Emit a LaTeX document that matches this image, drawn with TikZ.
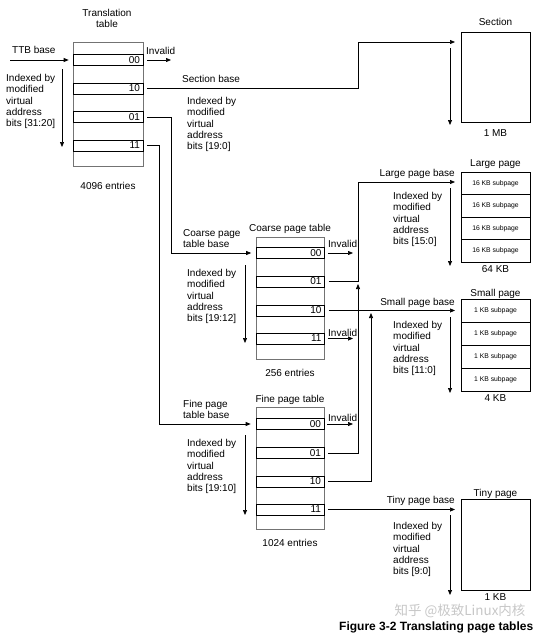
\documentclass[tikz,border=0pt]{standalone}
\usepackage{fontspec}
\setmainfont{Liberation Sans}
\newfontfamily\cjkfont{Noto Sans CJK SC}
\usetikzlibrary{arrows.meta}
\begin{document}
\begin{tikzpicture}[x=1pt,y=-1pt,
  font=\fontsize{10}{11.3}\selectfont,
  tbl/.style={draw=black!55, line width=0.7pt, minimum width=68pt, minimum height=122pt, inner sep=0pt},
  entry/.style={draw=black, line width=0.7pt, minimum width=68pt, minimum height=11pt, inner ysep=0pt, inner xsep=3pt, text width=62pt, align=right},
  pagebox/.style={draw=black, line width=0.8pt, minimum width=69pt, inner sep=0pt},
  subpg/.style={draw=black, line width=0.8pt, minimum width=69pt, inner sep=0pt, font=\fontsize{6.8}{7.5}\selectfont},
  lbl/.style={inner sep=0pt},
  blk/.style={inner sep=0pt, anchor=north west, align=left},
  conn/.style={line width=0.7pt},
  arr/.style={conn, -{Triangle[length=5pt,width=4pt]}},
]
\useasboundingbox (0,0) rectangle (555,640);

% watermark
\node[lbl, text=black!22] (wm) at (460,611) {\cjkfont\fontsize{13.5}{15}\selectfont 知乎 @极致Linux内核};

% ---------- Translation table ----------
\node[lbl, anchor=north, align=center] (ttl) at (107,9.2) {Translation\\table};
\node[tbl, minimum width=70pt, minimum height=124pt] (tt) at (108,104) {};
\node[entry, minimum width=70pt, text width=64pt] (t00) at (108,60) {00};
\node[entry, minimum width=70pt, text width=64pt] (t10) at (108,88.5) {10};
\node[entry, minimum width=70pt, text width=64pt] (t01) at (108,117) {01};
\node[entry, minimum width=70pt, text width=64pt] (t11) at (108,145.5) {11};
\node[lbl, anchor=base] (tent) at (108,189.5) {4096 entries};
\node[lbl, anchor=base west] (ttbl) at (12,53.5) {TTB base};
\node[blk] (tidx) at (6,74.2) {Indexed by\\modified\\virtual\\address\\bits [31:20]};
\node[lbl, anchor=base west] (tinv) at (146,54.5) {Invalid};
\node[lbl, anchor=base west] (secbase) at (182,82.5) {Section base};
\node[blk] (secidx) at (187,97.2) {Indexed by\\modified\\virtual\\address\\bits [19:0]};

% ---------- Coarse page table ----------
\node[lbl, anchor=base] (ctl) at (290,231.5) {Coarse page table};
\node[tbl] (ct) at (290.5,298) {};
\node[entry] (c00) at (290.5,253) {00};
\node[entry] (c01) at (290.5,281.5) {01};
\node[entry] (c10) at (290.5,310.5) {10};
\node[entry] (c11) at (290.5,338.5) {11};
\node[lbl, anchor=base] (cent) at (290,376.5) {256 entries};
\node[blk] (cbase) at (183,229.2) {Coarse page\\table base};
\node[blk] (cidx) at (187,269.2) {Indexed by\\modified\\virtual\\address\\bits [19:12]};
\node[lbl, anchor=base west] (cinv0l) at (328,247.5) {Invalid};
\node[lbl, anchor=base west] (cinv1l) at (328,336.5) {Invalid};

% ---------- Fine page table ----------
\node[lbl, anchor=base] (ftl) at (290,402.5) {Fine page table};
\node[tbl] (ft) at (290,468) {};
\node[entry] (f00) at (290,424) {00};
\node[entry] (f01) at (290,453) {01};
\node[entry] (f10) at (290,481.5) {10};
\node[entry] (f11) at (290,509.5) {11};
\node[lbl, anchor=base] (fent) at (290,546.5) {1024 entries};
\node[blk] (fbase) at (183,400.2) {Fine page\\table base};
\node[blk] (fidx) at (187,439.2) {Indexed by\\modified\\virtual\\address\\bits [19:10]};
\node[lbl, anchor=base west] (finvl) at (328,421.5) {Invalid};

% ---------- Pages ----------
\node[lbl, anchor=base] (secl) at (495.5,25.5) {Section};
\node[pagebox, minimum height=90pt] (sec) at (495.5,77) {};
\node[lbl, anchor=base] (secsz) at (495.5,136.5) {1 MB};

\node[lbl, anchor=base] (lgl) at (495.5,166.5) {Large page};
\node[subpg, minimum height=22.5pt] (lp1) at (495.5,183.25) {16 KB subpage};
\node[subpg, minimum height=22.5pt] (lp2) at (495.5,205.75) {16 KB subpage};
\node[subpg, minimum height=22.5pt] (lp3) at (495.5,228.25) {16 KB subpage};
\node[subpg, minimum height=22.5pt] (lp4) at (495.5,250.75) {16 KB subpage};
\node[lbl, anchor=base] (lgsz) at (495.5,272.5) {64 KB};
\node[lbl, anchor=base east] (lgbase) at (455,176.5) {Large page base};
\node[blk] (lgidx) at (393,192.2) {Indexed by\\modified\\virtual\\address\\bits [15:0]};

\node[lbl, anchor=base] (sml) at (495.5,296.5) {Small page};
\node[subpg, minimum height=23pt] (sp1) at (495.5,310.5) {1 KB subpage};
\node[subpg, minimum height=23pt] (sp2) at (495.5,333.5) {1 KB subpage};
\node[subpg, minimum height=23pt] (sp3) at (495.5,356.5) {1 KB subpage};
\node[subpg, minimum height=23pt] (sp4) at (495.5,379.5) {1 KB subpage};
\node[lbl, anchor=base] (smsz) at (495.5,401.5) {4 KB};
\node[lbl, anchor=base east] (smbase) at (455,305.5) {Small page base};
\node[blk] (smidx) at (393,321.2) {Indexed by\\modified\\virtual\\address\\bits [11:0]};

\node[lbl, anchor=base] (tyl) at (495.5,496.5) {Tiny page};
\node[pagebox, minimum height=91pt] (ty) at (495.5,544.5) {};
\node[lbl, anchor=base] (tysz) at (495.5,600.5) {1 KB};
\node[lbl, anchor=base east] (tybase) at (455,503.5) {Tiny page base};
\node[blk] (tyidx) at (393,522.2) {Indexed by\\modified\\virtual\\address\\bits [9:0]};

% caption
\node[lbl, anchor=base west, font=\bfseries\fontsize{12}{14}\selectfont] (cap) at (339,630) {Figure 3-2 Translating page tables};

% ---------- connector end points ----------
\coordinate (ttb) at (10,60);
\coordinate (tinvend) at (171,60);
\coordinate (secbend) at (358,42);
\coordinate (secin) at (455,42);
\coordinate (cbend) at (171,253);
\coordinate (fbend) at (159,424);
\coordinate (cinv0) at (353,253);
\coordinate (cinv1) at (353,338.5);
\coordinate (finv) at (353,424);
\coordinate (lgbend) at (358,182);
\coordinate (lgin) at (455,182);
\coordinate (smin) at (455,310.5);
\coordinate (lgup) at (358,284);
\coordinate (smup) at (371,313);
\coordinate (tyin) at (455,509.5);
% index arrows
\coordinate (ia1) at (62,69);   \coordinate (ib1) at (62,147);
\coordinate (ia2) at (450,48);  \coordinate (ib2) at (450,125);
\coordinate (ia3) at (245,265); \coordinate (ib3) at (245,343);
\coordinate (ia4) at (245,435); \coordinate (ib4) at (245,515);
\coordinate (ia5) at (450,188); \coordinate (ib5) at (450,266);
\coordinate (ia6) at (450,317); \coordinate (ib6) at (450,393);
\coordinate (ia7) at (450,515); \coordinate (ib7) at (450,595);

% ---------- connectors ----------
\draw[arr, shorten >=4pt] (ttb) -- (t00.west);
\draw[arr, shorten <=4pt] (t00.east) -- (tinvend);
\draw[arr, shorten <=4pt] (t10.east) -| (secbend) -- (secin);
\draw[arr, shorten <=4pt, shorten >=5pt] (t01.east) -| (cbend) -- (c00.west);
\draw[arr, shorten <=4pt, shorten >=5pt] (t11.east) -| (fbend) -- (f00.west);

\draw[arr, shorten <=3pt] (c00.east) -- (cinv0);
\draw[arr, shorten <=4pt] (c01.east) -| (lgbend) -- (lgin);
\draw[arr, shorten <=4pt] (c10.east) -- (smin);
\draw[arr, shorten <=3pt] (c11.east) -- (cinv1);

\draw[arr, shorten <=3pt] (f00.east) -- (finv);
\draw[arr, shorten <=4pt] (f01.east) -| (lgup);
\draw[arr, shorten <=4pt] (f10.east) -| (smup);
\draw[arr, shorten <=4pt] (f11.east) -- (tyin);

\draw[arr] (ia1) -- (ib1);
\draw[arr] (ia2) -- (ib2);
\draw[arr] (ia3) -- (ib3);
\draw[arr] (ia4) -- (ib4);
\draw[arr] (ia5) -- (ib5);
\draw[arr] (ia6) -- (ib6);
\draw[arr] (ia7) -- (ib7);
\end{tikzpicture}
\end{document}
